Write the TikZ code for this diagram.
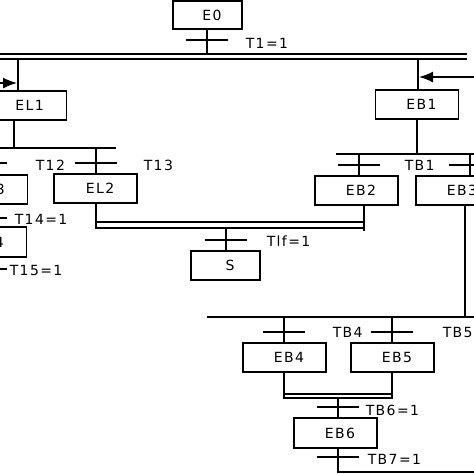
\documentclass[tikz,border=0pt]{standalone}
\usepackage{fontspec}
\setmainfont{DejaVu Sans}[LetterSpace=10]
\usetikzlibrary{arrows.meta}
\tikzset{
etape/.style={draw,line width=1.6pt,minimum width=83pt,minimum height=29pt,inner sep=0pt,
  font=\fontsize{14}{16}\selectfont,execute at begin node=\hspace*{9pt}},
tlabel/.style={anchor=west,inner sep=0pt,font=\fontsize{14}{16}\selectfont},
fleche/.style={-{Latex[length=14pt,width=11pt]}}
}
\newcommand{\trans}[2]{
\draw ({#1-21},#2)--({#1+21},#2);}

\begin{document}
\begin{tikzpicture}[x=1pt,y=-1pt,line width=1.5pt]
\useasboundingbox (0,0) rectangle (474,474);
\clip (0,0) rectangle (474,474);

\node[etape,minimum width=69pt,minimum height=28pt] (E0) at (207.5,15) {E0};
\node[etape] (EL1) at (25,105.5) {EL1};
\node[etape] (EL3) at (-14,189.5) {EL3};
\node[etape,minimum height=30pt] (EL4) at (-15,242) {EL4};
\node[etape] (EL2) at (95.5,188.5) {EL2};
\node[etape,minimum width=69pt] (S) at (225.5,265.5) {S};
\node[etape] (EB1) at (417,104.5) {EB1};
\node[etape] (EB2) at (356.5,190.5) {EB2};
\node[etape] (EB3) at (457.5,190.5) {EB3};
\node[etape] (EB4) at (284.5,357.5) {EB4};
\node[etape] (EB5) at (392.5,357.5) {EB5};
\node[etape,minimum height=30pt] (EB6) at (335.5,433) {EB6};

\draw (E0.south -| 207,0) -- (207,54);
\trans{207}{40}
\node[tlabel] (t1) at (245,43) {T1=1};
\foreach \y in {54,59}{
	\draw[line width=1.3pt] (0,\y)--(467,\y);
}

\draw (18,59) -- (EL1.north -| 18,0);
\draw[fleche] (-5,83) -- (17,83);
\draw (EL1.south -| 14,0) -- (14,148);
\draw (-40,148) -- (116,148);
\draw (-14,148) -- (EL3.north);
\trans{-14}{163}
\node[tlabel] (t12) at (35,165) {T12};
\draw (96,148) -- (EL2.north -| 96,0);
\trans{96}{163}
\node[tlabel] (t13) at (143,165) {T13};
\draw (EL3.south) -- (EL4.north -| EL3.south);
\trans{-14}{218}
\node[tlabel] (t14) at (14,219) {T14=1};
\draw (EL4.south -| EL3.south) -- (-14,290);
\trans{-14}{269}
\node[tlabel] (t15) at (9,270) {T15=1};

\draw (EL2.south -| 96,0) -- (96,229);
\foreach \y in {222,228}{
	\draw[line width=1.2pt] (96,\y)--(364,\y);
}
\draw (EB2.south -| 364,0) -- (364,231);
\draw (226,228) -- (S.north -| 226,0);
\trans{226}{240}
\node[tlabel] (tlf) at (266,241) {Tlf=1};

\draw (418,59) -- (EB1.north -| 418,0);
\draw[fleche] (480,77) -- (419,77);
\draw (EB1.south) -- (417,154);
\draw (336,154) -- (480,154);
\draw (359,154) -- (EB2.north -| 359,0);
\trans{359}{165}
\node[tlabel] (tb1) at (404,165) {TB1};
\draw (470,154) -- (EB3.north -| 470,0);
\trans{470}{165}
\draw (EB3.south -| 465,0) -- (465,317);

\draw (207,317) -- (480,317);
\draw (284,317) -- (EB4.north -| 284,0);
\trans{284}{332}
\node[tlabel] (tb4) at (332,332) {TB4};
\draw (392,317) -- (EB5.north -| 392,0);
\trans{392}{332}
\node[tlabel] (tb5) at (442,332) {TB5};
\draw (EB4.south -| 284,0) -- (284,399);
\draw (EB5.south -| 392,0) -- (392,399);
\foreach \y in {394,398}{
	\draw[line width=1.2pt] (284,\y)--(393,\y);
}
\draw (338,398) -- (EB6.north -| 338,0);
\trans{338}{407}
\node[tlabel] (tb6) at (365,410) {TB6=1};
\draw (EB6.south -| 338,0) -- (338,472) -- (480,472);
\trans{338}{457}
\node[tlabel] (tb7) at (367,459) {TB7=1};

\end{tikzpicture}
\end{document}
